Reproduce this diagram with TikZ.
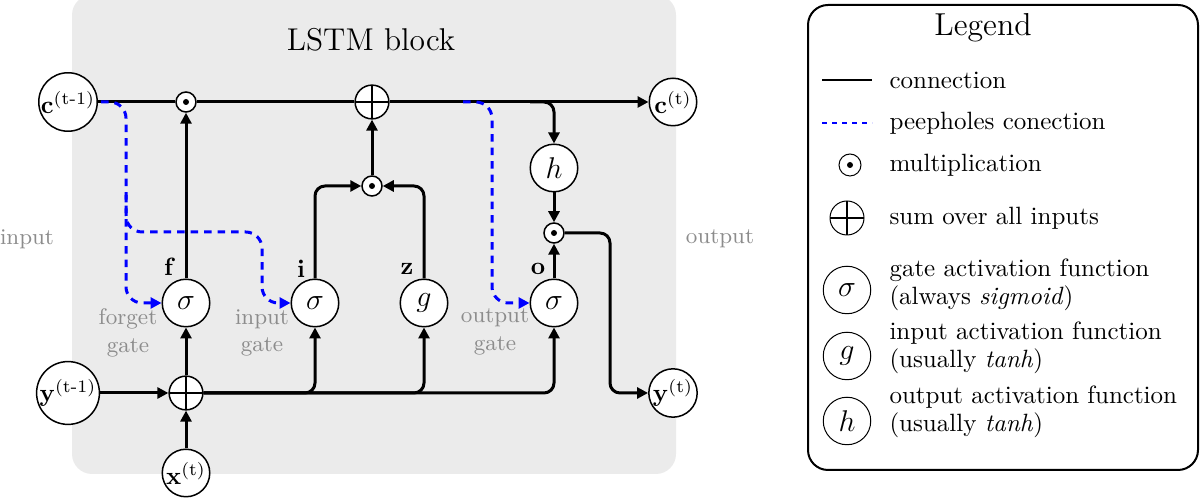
\documentclass[tikz,border=0pt]{standalone}
\usepackage{amsmath}
\usepackage{xcolor}
\usepackage{tikz}
\usetikzlibrary{arrows.meta}
\definecolor{blockgray}{RGB}{235,235,235}
\definecolor{labelgray}{RGB}{140,140,140}

\begin{document}
\begin{tikzpicture}[x=4pt,y=-4pt,
	big/.style={circle,draw,line width=0.6pt,fill=white,minimum size=19pt,inner sep=0pt},
	mult/.style={circle,draw,line width=0.6pt,fill=white,minimum size=8pt,inner sep=0pt,
		path picture={\fill[black] (path picture bounding box.center) circle (1.2pt);}},
	plus/.style={circle,draw,line width=0.6pt,fill=white,minimum size=13.5pt,inner sep=0pt,
		path picture={\draw[black,line width=0.5pt] (path picture bounding box.north) -- (path picture bounding box.south)
			(path picture bounding box.west) -- (path picture bounding box.east);}},
	conn/.style={line width=1.2pt,rounded corners=4pt},
	peep/.style={line width=1.2pt,blue,dash pattern=on 3pt off 2.4pt,rounded corners=6.5pt},
	tip/.style={-{Triangle[length=4.4pt,width=4.4pt]}},
	gate/.style={text=labelgray,font=\small,align=center,inner sep=0pt},
	legtext/.style={anchor=west,inner sep=0pt,align=left,font=\fontsize{10}{11}\selectfont}
]
\useasboundingbox (0,0) rectangle (120,49.9);

% block
\fill[blockgray,rounded corners=8pt] (7.2,-0.5) rectangle (67.6,47.4);
\node at (37.1,4.0) {\fontsize{12.6}{15}\selectfont LSTM block};
\node[gate] at (2.7,23.9) {input};
\node[gate] at (72.0,23.9) {output};

% inputs and outputs
\node[big] (C0) at (6.8,10.2) {$\mathbf{c}^{\text{(t-1)}}$};
\node[big] (C1) at (67.3,10.2) {$\mathbf{c}^{\text{(t)}}$};
\node[big] (Y0) at (6.8,39.3) {$\mathbf{y}^{\text{(t-1)}}$};
\node[big] (Y1) at (67.3,39.3) {$\mathbf{y}^{\text{(t)}}$};
\node[big] (X1) at (18.6,47.3) {$\mathbf{x}^{\text{(t)}}$};

% inner nodes
\node[mult] (MF) at (18.6,10.2) {};
\node[plus] (SC) at (37.2,10.2) {};
\node[mult] (MI) at (37.2,18.6) {};
\node[big] (H) at (55.4,16.8) {\large$h$};
\node[mult] (MO) at (55.4,23.3) {};
\node[big] (SF) at (18.6,30.3) {\large$\sigma$};
\node[big] (SI) at (31.5,30.3) {\large$\sigma$};
\node[big] (G) at (42.4,30.3) {\large$g$};
\node[big] (SO) at (55.4,30.3) {\large$\sigma$};
\node[plus] (SX) at (18.6,39.3) {};

\node at (17.0,26.7) {$\mathbf{f}$};
\node at (30.1,26.9) {$\mathbf{i}$};
\node at (40.7,26.9) {$\mathbf{z}$};
\node at (53.8,26.9) {$\mathbf{o}$};
\node[gate] at (12.8,33.3) {forget\\gate};
\node[gate] at (26.2,33.3) {input\\gate};
\node[gate] at (49.5,33.2) {output\\gate};

% connections
\draw[conn] (C0) -- (MF);
\draw[conn] (MF) -- (SC);
\draw[conn,tip] (SC) -- (C1);
\draw[conn,tip] (SF) -- (MF);
\draw[conn,tip] (SI) |- (MI);
\draw[conn,tip] (G) |- (MI);
\draw[conn,tip] (MI) -- (SC);
\coordinate (HB) at (53.0,10.2);
\draw[conn,tip] (HB) -| (H);
\draw[conn,tip] (H) -- (MO);
\draw[conn,tip] (SO) -- (MO);
\coordinate (YB) at (61.0,23.3);
\draw[conn,tip] (MO) -- (YB) |- (Y1);
\draw[conn,tip] (Y0) -- (SX);
\draw[conn,tip] (X1) -- (SX);
\draw[conn,tip] (SX) -- (SF);
\draw[conn,tip] (SX) -| (SI);
\draw[conn,tip] (SX) -| (G);
\draw[conn,tip] (SX) -| (SO);

% peepholes
\coordinate (PF) at (10.1,10.2);
\coordinate (PA) at (12.6,10.2);
\draw[peep,tip] (PF) -- (PA) |- (SF);
\coordinate (PB) at (12.6,19.5);
\coordinate (PC) at (26.2,23.2);
\draw[peep,tip] (PB) |- (PC) |- (SI);
\coordinate (PO) at (46.3,10.2);
\coordinate (PD) at (49.2,10.2);
\draw[peep,tip] (PO) -- (PD) |- (SO);

% legend
\draw[line width=0.8pt,rounded corners=8pt] (80.8,0.5) rectangle (119.8,47.0);
\node at (98.3,2.8) {\fontsize{12.7}{15}\selectfont Legend};
\coordinate (LA) at (82.2,8.0);
\coordinate (LB) at (87.2,8.0);
\draw[line width=1pt] (LA) -- (LB);
\node[legtext] at (88.9,8.0) {connection};
\coordinate (LC) at (82.2,12.3);
\coordinate (LD) at (87.2,12.3);
\draw[blue,line width=0.8pt,dash pattern=on 2pt off 2pt] (LC) -- (LD);
\node[legtext] at (88.9,12.3) {peepholes conection};
\node[mult,line width=0.4pt,minimum size=8.8pt] (LM) at (85.0,16.5) {};
\node[legtext] at (88.9,16.5) {multiplication};
\node[plus,line width=0.4pt,minimum size=13.6pt] (LS) at (84.7,21.8) {};
\node[legtext] at (88.9,21.8) {sum over all inputs};
\node[big,line width=0.4pt] (LG) at (84.7,29.0) {\large$\sigma$};
\node[legtext] at (88.9,28.5) {gate activation function\\(always \textit{sigmoid})};
\node[big,line width=0.4pt] (LI) at (84.7,35.6) {\large$g$};
\node[legtext] at (88.9,34.8) {input activation function\\(usually \textit{tanh})};
\node[big,line width=0.4pt] (LH) at (84.7,42.1) {\large$h$};
\node[legtext] at (88.9,41.2) {output activation function\\(usually \textit{tanh})};

\end{tikzpicture}
\end{document}
